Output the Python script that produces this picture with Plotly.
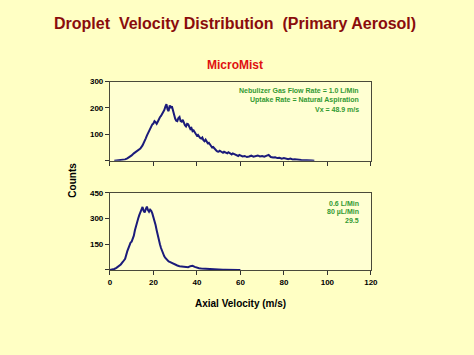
import plotly.graph_objects as go

# ---- data ----
top_velocity = [2, 3, 4, 5, 6, 7, 8, 9, 10, 11, 12, 13, 14,
                15, 15.5, 16, 16.5, 17, 17.5, 18, 18.5, 19, 19.5, 20, 20.5, 21, 21.5, 22, 22.5,
                23, 23.5, 24, 24.5, 25, 25.5, 26, 26.5, 27, 27.5, 28, 28.5, 29, 29.5, 30, 30.5,
                31, 31.5, 32, 32.5, 33, 33.5, 34, 34.5, 35, 35.5, 36, 36.5, 37, 37.5, 38, 38.5,
                39, 39.5, 40, 40.5, 41, 41.5, 42, 42.5, 43, 43.5, 44, 44.5, 45, 45.5, 46, 46.5,
                47, 47.5, 48, 48.5, 49, 49.5, 50, 50.5, 51, 51.5, 52, 52.5, 53, 53.5, 54, 54.5,
                55, 55.5, 56, 56.5, 57, 57.5, 58, 58.5, 59, 59.5, 60,
                61, 62, 63, 64, 65, 66, 67, 68, 69, 70, 71, 72, 73, 74, 75, 76, 77, 78, 79, 80,
                81, 82, 83, 84, 85, 86, 87, 88, 89, 90, 91, 92, 93, 94]
top_counts = [0, 1, 2, 2, 4, 5, 9, 14, 20, 28, 34, 40, 46,
              58, 66, 72, 85, 95, 104, 112, 124, 130, 138, 141, 150, 146, 140, 148, 158,
              165, 170, 176, 185, 192, 205, 214, 195, 188, 210, 200, 207, 190, 175, 160, 152,
              150, 162, 166, 150, 148, 155, 142, 135, 130, 140, 138, 126, 120, 124, 112, 115,
              108, 100, 95, 98, 90, 86, 84, 88, 78, 74, 80, 70, 66, 68, 62, 55,
              50, 52, 46, 42, 38, 35, 34, 38, 36, 31, 30, 34, 32, 27, 28, 32,
              30, 25, 24, 28, 26, 21, 22, 19, 18, 22, 20,
              16, 18, 14, 16, 19, 15, 17, 20, 16, 18, 15, 20, 22, 14, 12, 13, 10, 11, 8, 10,
              8, 6, 8, 5, 6, 4, 4, 3, 3, 2, 2, 1, 1, 0]

bottom_velocity = [0, 1, 2, 3, 4, 5, 6, 7,
                   8, 8.5, 9, 9.5, 10, 10.5, 11, 11.5, 12, 12.5, 13, 13.5, 14, 14.5, 15, 15.5,
                   16, 16.5, 17, 17.5, 18, 18.5, 19, 19.5, 20, 20.5, 21, 21.5, 22, 22.5, 23, 23.5,
                   24, 24.5, 25, 25.5, 26, 26.5, 27, 27.5, 28, 28.5, 29, 29.5, 30,
                   31, 32, 33, 34, 35, 36, 37, 38, 39, 40, 41, 42, 43, 44, 45, 46, 47, 48, 49,
                   50, 51, 52, 53, 54, 55, 56, 57, 58, 59, 60]
bottom_counts = [0, 2, 6, 12, 20, 32, 48, 65,
                 110, 128, 150, 160, 165, 182, 200, 232, 260, 285, 300, 320, 335, 350, 368, 345,
                 335, 355, 370, 350, 340, 352, 345, 330, 310, 290, 262, 232, 200, 175, 150, 128,
                 110, 92, 80, 70, 62, 55, 50, 47, 44, 38, 34, 35, 32,
                 26, 22, 20, 17, 18, 16, 22, 24, 18, 12, 10, 8, 7, 6, 5, 5, 4, 4, 3,
                 3, 2, 2, 2, 1, 1, 1, 1, 0, 0, 0]

x_ticks = [0, 20, 40, 60, 80, 100, 120]
top_y_ticks = [0, 100, 200, 300]
top_y_labels = ["", "100", "200", "300"]
bottom_y_ticks = [0, 150, 300, 450]
bottom_y_labels = ["", "150", "300", "450"]

top_notes = ["Nebulizer Gas Flow Rate = 1.0 L/Min", "Uptake Rate = Natural Aspiration", "Vx = 48.9 m/s"]
bottom_notes = ["0.6 L/Min", "80 µL/Min", "29.5"]

# ---- figure ----
W, H = 474, 355
FONT = "Liberation Sans, Arial, sans-serif"
LINE = "#1b1b7a"
GREEN = "#339a33"
PAPER = "#ffffc4"

fig = go.Figure()
fig.add_trace(go.Scatter(x=top_velocity, y=top_counts, mode="lines",
                         line=dict(color=LINE, width=2), xaxis="x", yaxis="y", showlegend=False))
fig.add_trace(go.Scatter(x=bottom_velocity, y=bottom_counts, mode="lines",
                         line=dict(color=LINE, width=2), xaxis="x2", yaxis="y2", showlegend=False))

xdom = [110 / W, 376 / W]
axis_common = dict(showgrid=False, zeroline=False, showline=True, linecolor="#4a4a3a", linewidth=1,
                   mirror=True, ticks="outside", ticklen=4, tickcolor="#333",
                   tickfont=dict(family=FONT, size=8, color="#000", weight="bold"))

fig.update_layout(
    width=W, height=H,
    margin=dict(l=0, r=0, t=0, b=0),
    paper_bgcolor=PAPER,
    plot_bgcolor="#ffffd2",
    xaxis=dict(domain=xdom, range=[0, 120], tickvals=x_ticks, showticklabels=False,
               anchor="y", **axis_common),
    yaxis=dict(domain=[1 - 158.5 / H, 1 - 78.5 / H], range=[0, 300], tickvals=top_y_ticks,
               ticktext=top_y_labels, anchor="x", **axis_common),
    xaxis2=dict(domain=xdom, range=[0, 120], tickvals=x_ticks, anchor="y2", **axis_common),
    yaxis2=dict(domain=[1 - 269 / H, 1 - 191 / H], range=[0, 450], tickvals=bottom_y_ticks,
                ticktext=bottom_y_labels, anchor="x2", **axis_common),
)

ann = []
ann.append(dict(text="Droplet\u00a0 Velocity Distribution\u00a0 (Primary Aerosol)", x=237 / W, y=1 - 20 / H,
                xref="paper", yref="paper", showarrow=False, xanchor="center", yanchor="middle",
                font=dict(family=FONT, size=16, color="#8a0c0c", weight="bold")))
ann.append(dict(text="MicroMist", x=238 / W, y=1 - 62 / H, xref="paper", yref="paper", showarrow=False,
                xanchor="center", yanchor="middle",
                font=dict(family=FONT, size=12, color="#e01010", weight="bold")))
ann.append(dict(text="Counts", x=72 / W, y=1 - 178 / H, xref="paper", yref="paper", showarrow=False,
                textangle=-90, xanchor="center", yanchor="middle",
                font=dict(family=FONT, size=10, color="#000", weight="bold")))
ann.append(dict(text="Axial Velocity (m/s)", x=243 / W, y=1 - 303 / H, xref="paper", yref="paper",
                showarrow=False, xanchor="center", yanchor="middle",
                font=dict(family=FONT, size=10, color="#000", weight="bold")))
for i, t in enumerate(top_notes):
    ann.append(dict(text=t, x=366 / W, y=1 - (87 + 10 * i) / H, xref="paper", yref="paper",
                    showarrow=False, xanchor="right", yanchor="middle",
                    font=dict(family=FONT, size=7, color=GREEN, weight="bold")))
for i, t in enumerate(bottom_notes):
    ann.append(dict(text=t, x=366 / W, y=1 - (202 + 8.5 * i) / H, xref="paper", yref="paper",
                    showarrow=False, xanchor="right", yanchor="middle",
                    font=dict(family=FONT, size=7, color=GREEN, weight="bold")))
fig.update_layout(annotations=ann)

fig.write_html("out.html", config={"displayModeBar": False},
               post_script="document.body.style.margin='0';document.body.style.background='%s';" % PAPER)
